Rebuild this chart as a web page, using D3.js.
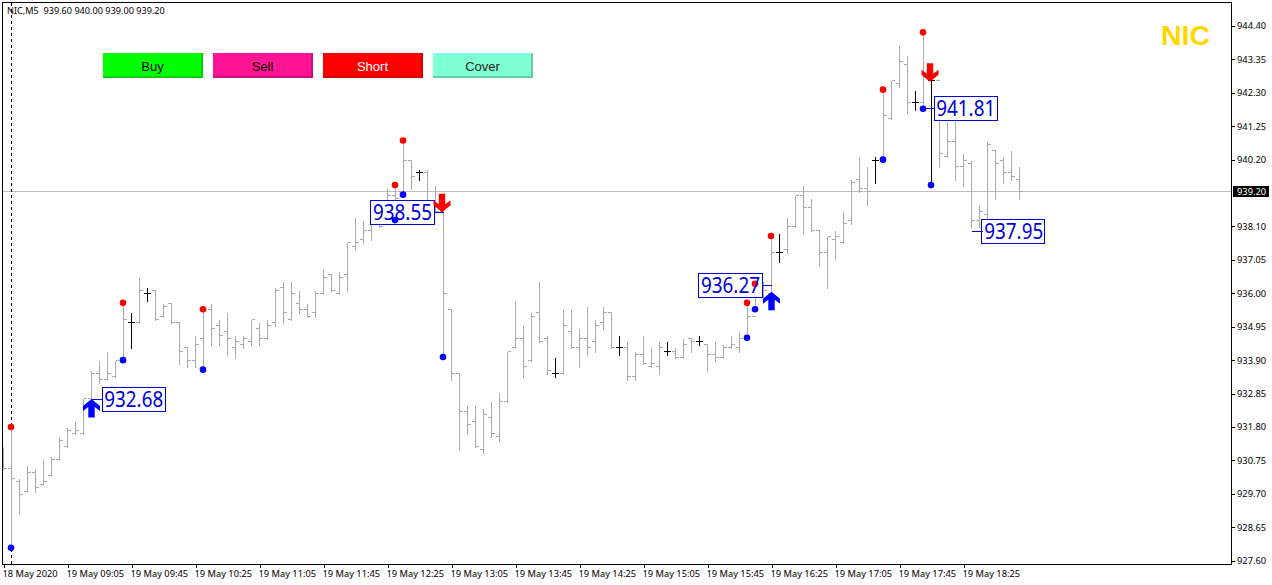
<!DOCTYPE html>
<html><head><meta charset="utf-8">
<script src="https://d3js.org/d3.v7.min.js"></script>
<style>html,body{margin:0;padding:0;background:#fff;overflow:hidden}svg{display:block}
.axis text{font-family:"Noto Sans",sans-serif;font-size:9.3px;fill:#000}</style>
</head><body><svg id="c" width="1272" height="585"></svg>
<script>
const opens=[930.9,930.5,930.1,929.8,930.4,930.0,930.3,930.8,931.2,931.6,
931.6,932.7,933.5,933.3,933.4,933.9,935.1,935.1,936.0,936.1,
935.3,935.7,935.1,934.3,933.9,934.6,935.5,935.0,934.8,934.3,
934.4,934.5,934.9,934.6,935.1,936.2,935.2,935.7,935.5,935.4,
936.0,936.6,936.0,936.6,937.5,937.7,938.0,938.2,938.2,939.1,
939.1,940.2,939.8,939.8,938.9,938.6,935.5,933.5,932.3,932.0,
931.1,932.1,931.5,932.6,934.3,934.6,933.9,935.4,934.6,933.5,
933.5,934.8,934.3,934.6,934.5,935.1,935.4,934.3,934.3,933.4,
934.1,933.7,933.7,934.2,934.2,934.0,934.6,934.5,934.4,934.1,
934.0,934.3,934.3,934.6,935.3,936.0,936.0,937.3,937.4,938.1,
939.1,938.7,938.0,937.3,937.7,937.6,938.3,939.6,939.3,940.2,
940.2,941.5,942.6,943.2,942.0,942.0,942.7,942.7,940.3,940.8,
940.0,940.1,938.3,938.5,940.5,940.2,939.8,939.6];
const highs=[931.2,931.8,930.2,930.6,930.5,930.8,930.9,931.5,931.8,932.0,
932.7,933.6,933.9,934.2,933.9,935.7,935.4,936.5,936.2,936.1,
935.7,935.7,935.1,934.3,934.7,935.5,935.7,935.2,935.4,934.7,
934.7,935.2,935.1,935.2,936.2,936.4,936.4,936.1,935.7,936.1,
936.8,936.6,936.7,937.6,938.4,938.3,938.4,938.5,939.3,939.4,
940.8,940.2,939.9,939.9,939.4,938.6,935.5,933.5,932.5,932.5,
932.4,932.6,932.9,934.2,935.8,935.0,935.4,936.4,934.7,934.0,
935.5,935.5,934.9,935.6,935.2,935.6,935.4,934.7,934.5,934.2,
934.7,934.3,934.5,934.5,934.3,934.6,934.6,934.7,934.4,934.5,
934.4,934.7,934.8,935.7,936.3,936.4,937.8,937.9,938.4,939.1,
939.4,939.0,938.0,937.8,938.0,938.6,939.6,940.3,940.0,940.3,
942.4,942.7,943.8,943.5,942.4,944.2,942.7,942.2,941.4,941.5,
940.4,940.2,938.8,940.8,940.5,940.3,940.5,940.0];
const lows=[930.5,928.0,929.1,929.8,929.8,930.0,930.3,930.8,931.2,931.6,
931.6,932.7,933.2,933.3,933.4,933.9,934.3,935.1,935.8,935.2,
935.3,935.1,933.8,933.7,933.7,933.6,934.4,934.4,934.1,934.0,
934.3,934.4,934.4,934.6,935.0,935.1,935.2,935.4,935.3,935.3,
936.0,936.1,936.0,936.1,937.4,937.6,937.7,938.1,938.2,938.3,
939.1,939.3,939.6,938.8,938.6,934.0,933.3,931.1,931.6,931.2,
931.0,931.5,931.4,932.6,934.3,933.4,933.9,934.5,933.5,933.4,
933.5,934.3,933.7,934.1,934.2,934.9,934.3,934.1,933.3,933.3,
933.8,933.7,933.5,934.1,934.0,934.0,934.2,934.4,933.6,933.9,
934.0,934.3,934.2,934.6,935.5,935.9,935.9,937.0,937.3,938.1,
937.9,938.0,936.9,936.2,937.1,937.6,938.2,939.2,938.8,939.5,
940.2,941.5,942.5,941.7,941.8,941.8,939.4,940.0,940.3,939.6,
939.4,938.1,938.1,938.4,939.0,939.5,939.6,939.0];
const closes=[930.5,930.2,929.7,930.4,929.9,930.1,930.8,931.4,931.7,931.7,
932.7,933.5,933.3,933.5,933.9,935.2,935.1,936.1,936.0,935.2,
935.6,935.1,934.2,933.9,934.4,935.5,934.9,934.7,934.6,934.5,
934.6,935.2,934.6,935.0,936.1,935.4,936.0,935.5,935.3,936.0,
936.5,936.1,936.5,937.6,937.6,938.0,938.2,938.1,939.1,939.0,
940.2,939.7,939.8,938.9,938.6,936.0,933.5,932.3,931.9,931.2,
932.2,931.6,932.6,934.2,934.6,933.7,935.3,934.5,933.6,933.5,
935.0,934.3,934.6,934.3,935.0,935.4,934.3,934.3,933.4,934.1,
933.8,933.8,934.3,934.2,934.0,934.4,934.5,934.5,934.1,934.0,
934.3,934.4,934.6,935.3,936.0,936.1,937.3,937.3,938.1,939.1,
938.7,938.0,937.3,937.8,937.8,938.2,939.5,939.3,939.2,940.2,
941.6,942.7,943.3,942.0,942.0,942.8,942.7,940.4,940.8,940.0,
940.2,938.3,938.6,940.7,940.1,939.8,939.7,939.2];

const redDotBars=[1,15,25,49,50,93,94,96,110,115];
const blueDotBars=[1,15,25,49,50,55,93,94,110,115,116];
const buyArrowBars=[11,96], buyArrowPrices=[932.68,936.05];
const shortArrowBars=[55,116], shortArrowPrices=[938.55,942.65];
const labelBars=[11,55,96,115,121];
const labelValues=[932.68,938.55,936.27,941.81,937.95];
const labelSides=["right","left","left","right","right"];
const priceTicks=[944.40,943.35,942.30,941.25,940.20,938.10,937.05,936.00,934.95,933.90,932.85,931.80,930.75,929.70,928.65,927.60];
const priceTickLabels=["944.40","943.35","942.30","941.25","940.20","938.10","937.05","936.00","934.95","933.90","932.85","931.80","930.75","929.70","928.65","927.60"];
const timeTickBars=[0,8,16,24,32,40,48,56,64,72,80,88,96,104,112,120];
const timeTickLabels=["18 May 2020","19 May 09:05","19 May 09:45","19 May 10:25","19 May 11:05","19 May 11:45","19 May 12:25","19 May 13:05","19 May 13:45","19 May 14:25","19 May 15:05","19 May 15:45","19 May 16:25","19 May 17:05","19 May 17:45","19 May 18:25"];
const buttonNames=["Buy","Sell","Short","Cover"];
const buttonColors=["#00ff00","#ff1493","#ff0000","#7fffd4"];
const buttonEdges=["#00d000","#d01078","#d00000","#66ccaa"];
const buttonTextColors=["#000","#000","#fff","#222"];
const lastPrice=939.20, separatorBar=1;
const headerText="NIC,M5  939.60 940.00 939.00 939.20";

const svg=d3.select("#c");
const L=2.5,T=2.5,R=1231.5,B=564.5;
const x=d3.scaleLinear().domain([0,127]).range([3.5,1019.5]);
const y=d3.scaleLinear().domain([927.6,944.4]).range([560.6,26]);
const px=v=>Math.round(y(v))+0.5;
const BLUE="#0000dd";
svg.append("defs").append("clipPath").attr("id","plot").append("rect").attr("x",L).attr("y",T).attr("width",R-L).attr("height",B-T);
const plot=svg.append("g").attr("clip-path","url(#plot)");

plot.append("line").attr("x1",L).attr("x2",R).attr("y1",px(lastPrice)).attr("y2",px(lastPrice)).attr("stroke","#c0c0c0");
plot.append("line").attr("x1",x(separatorBar)).attr("x2",x(separatorBar)).attr("y1",T).attr("y2",B)
  .attr("stroke","#000").attr("stroke-dasharray","3,3").attr("shape-rendering","crispEdges");

plot.append("g").attr("shape-rendering","crispEdges").attr("fill","none").selectAll("path")
 .data(d3.range(opens.length)).join("path")
 .attr("stroke",i=>opens[i]===closes[i]?"#000":"#a9a9a9")
 .attr("d",i=>`M${x(i)},${px(highs[i])}V${px(lows[i])+1}M${x(i)-3.5},${px(opens[i])}H${x(i)}M${x(i)},${px(closes[i])}H${x(i)+3.5}`);

const boxW=i=>labelSides[i]==="right"?62.5:64;
const boxX=i=>labelSides[i]==="right"?x(labelBars[i])+11:x(labelBars[i])-9-boxW(i);
const BH=24;
const labelIdx=d3.range(labelBars.length);
plot.append("g").selectAll("rect").data(labelIdx).join("rect")
 .attr("x",i=>Math.round(boxX(i))-0.5).attr("y",i=>px(labelValues[i])-BH/2-0.5).attr("width",i=>Math.round(boxW(i))).attr("height",BH)
 .attr("fill","#fff").attr("stroke",BLUE).attr("stroke-width",1).attr("shape-rendering","crispEdges");
plot.append("g").selectAll("line").data(labelIdx).join("line")
 .attr("x1",i=>x(labelBars[i])).attr("x2",i=>labelSides[i]==="right"?boxX(i):boxX(i)+boxW(i))
 .attr("y1",i=>px(labelValues[i])).attr("y2",i=>px(labelValues[i]))
 .attr("stroke",BLUE).attr("shape-rendering","crispEdges");

plot.append("g").selectAll("circle").data(redDotBars).join("circle")
 .attr("cx",i=>x(i)-0.5).attr("cy",i=>y(highs[i])).attr("r",3.3).attr("fill","#ff0000");
plot.append("g").selectAll("circle").data(blueDotBars).join("circle")
 .attr("cx",i=>x(i)-0.5).attr("cy",i=>y(lows[i])).attr("r",3.3).attr("fill","#0000ff");

plot.append("g").selectAll("text").data(labelIdx).join("text")
 .attr("x",i=>boxX(i)+boxW(i)/2).attr("y",i=>px(labelValues[i])+7.8).attr("text-anchor","middle")
 .attr("font-family","'Noto Sans',sans-serif").attr("font-size",21.5).attr("fill",BLUE)
 .attr("textLength",59).attr("lengthAdjust","spacingAndGlyphs").text(i=>labelValues[i].toFixed(2));

const arrowUp="M0,0L8.5,7V12L3.2,8V18.5H-3.2V8L-8.5,12V7Z";
const arrowDown="M0,0L8.5,-7V-12L3.2,-8V-18.5H-3.2V-8L-8.5,-12V-7Z";
plot.append("g").selectAll("path").data(buyArrowBars).join("path").attr("fill","#0000ff").attr("d",arrowUp)
 .attr("transform",(b,k)=>`translate(${x(b)},${y(buyArrowPrices[k])})`);
plot.append("g").selectAll("path").data(shortArrowBars).join("path").attr("fill","#ff0000").attr("d",arrowDown)
 .attr("transform",(b,k)=>`translate(${x(b)-1.5},${y(shortArrowPrices[k])})`);

// buttons
const btn=svg.append("g").selectAll("g").data(d3.range(4)).join("g").attr("transform",i=>`translate(${103+110*i},53)`);
btn.append("rect").attr("width",100).attr("height",25).attr("fill",i=>buttonEdges[i]);
btn.append("rect").attr("width",98).attr("height",23).attr("fill",i=>d3.color(buttonColors[i]).brighter(0.3));
btn.append("rect").attr("x",1).attr("y",1).attr("width",97).attr("height",22).attr("fill",i=>buttonColors[i]);
btn.append("text").attr("x",49.5).attr("y",18).attr("text-anchor","middle").attr("font-family","'Liberation Sans',sans-serif")
 .attr("font-size",13).attr("fill",i=>buttonTextColors[i]).text(i=>buttonNames[i]);

svg.append("text").attr("x",7).attr("y",14).attr("font-family","'Noto Sans',sans-serif").attr("font-size",9.15).attr("fill","#000")
 .style("white-space","pre").text(headerText);
svg.append("text").attr("x",1185.5).attr("y",45).attr("text-anchor","middle").attr("font-family","'Liberation Sans',sans-serif")
 .attr("font-weight","bold").attr("font-size",28.5).attr("fill","#ffd700").text("NIC");

// axes
const yAxis=d3.axisRight(y).tickValues(priceTicks).tickSize(3).tickPadding(2.5)
  .tickFormat((d,i)=>priceTickLabels[i]);
const gy=svg.append("g").attr("class","axis").attr("transform",`translate(${R},0)`).attr("shape-rendering","crispEdges").call(yAxis);
gy.select(".domain").remove();
const xAxis=d3.axisBottom(x).tickValues(timeTickBars).tickSize(3).tickPadding(3).tickFormat((d,i)=>timeTickLabels[i]);
const gx=svg.append("g").attr("class","axis").attr("transform",`translate(0,${B})`).attr("shape-rendering","crispEdges").call(xAxis);
gx.select(".domain").remove();
gx.selectAll("text").attr("text-anchor","start").attr("dx",-1.5);

svg.append("rect").attr("x",L).attr("y",T).attr("width",R-L).attr("height",B-T).attr("fill","none").attr("stroke","#000").attr("shape-rendering","crispEdges");

const tag=svg.append("g");
tag.append("rect").attr("x",1233).attr("y",px(lastPrice)-5.5).attr("width",36).attr("height",11).attr("fill","#000");
tag.append("text").attr("x",1237).attr("y",px(lastPrice)+3.5).attr("font-family","'Noto Sans',sans-serif").attr("font-size",9.3).attr("fill","#fff").text(lastPrice.toFixed(2));
</script></body></html>
